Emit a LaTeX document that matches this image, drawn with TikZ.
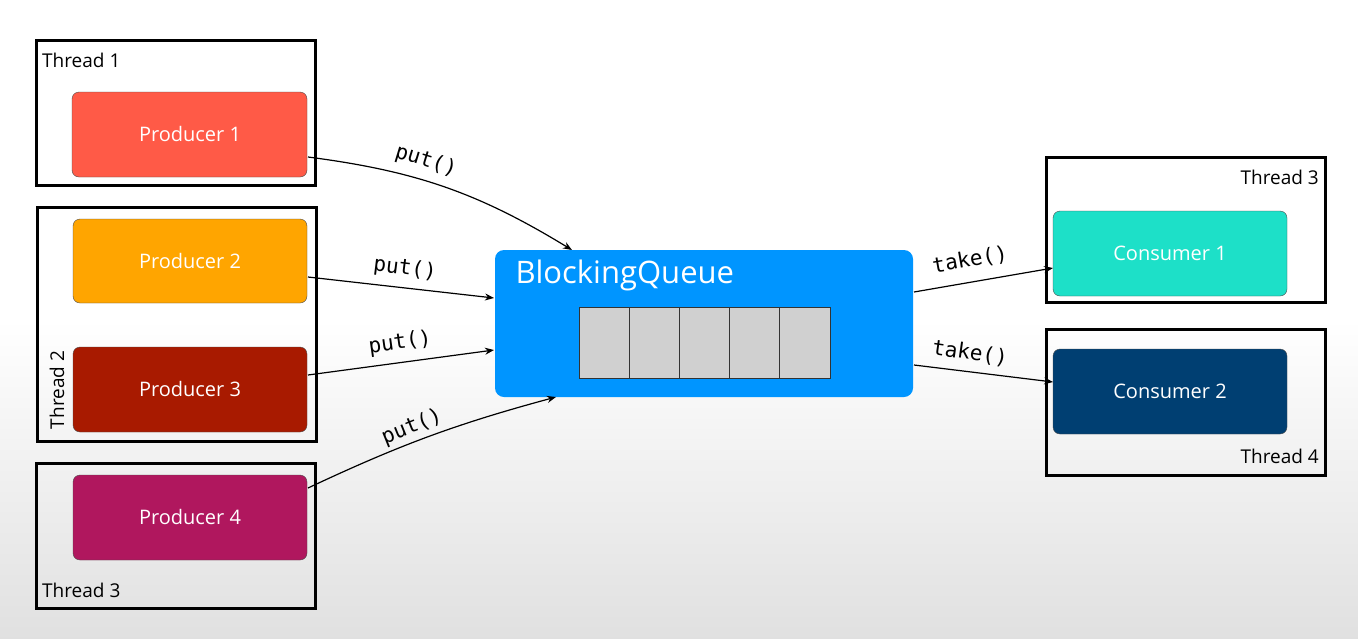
\documentclass[tikz,border=0pt]{standalone}
\usepackage{fontspec}
\setmainfont{Open Sans}
\newfontfamily\monof{DejaVu Sans Mono}
\usetikzlibrary{arrows.meta}
\definecolor{pA}{HTML}{FF5A47}\definecolor{pB}{HTML}{FFA500}
\definecolor{pC}{HTML}{A81A00}\definecolor{pD}{HTML}{B0175E}
\definecolor{cA}{HTML}{1DE0C8}\definecolor{cB}{HTML}{003F72}
\definecolor{bq}{HTML}{0095FF}\definecolor{cell}{HTML}{D0D0D0}
\begin{document}
\begin{tikzpicture}[x=1pt,y=-1pt,
 thr/.style={draw=black,line width=3pt},
 box/.style={draw=black!70,rounded corners=7pt},
 pt/.style={text=white,font=\fontsize{20}{24}\selectfont},
 lbl/.style={font=\fontsize{19}{22}\selectfont},
 call/.style={font=\monof\fontsize{21}{24}\selectfont},
 arr/.style={-{Stealth[length=9pt,width=7pt]},line width=1.2pt}]
\shade[top color=white,bottom color=white!88!black,middle color=white] (0,0) rectangle (1358,638);
\useasboundingbox (0,0) rectangle (1358,638);
\draw[thr] (36,40) rectangle (315,185);
\draw[thr] (37,207) rectangle (316,441);
\draw[thr] (36,463) rectangle (315,608);
\draw[thr] (1046,157) rectangle (1325,302);
\draw[thr] (1046,329) rectangle (1325,475);
\node[lbl,anchor=west,inner sep=1pt] (t1) at (41,60) {Thread 1};
\node[lbl,anchor=center,rotate=90,inner sep=1pt] (t2) at (57,390) {Thread 2};
\node[lbl,anchor=west,inner sep=1pt] (t3) at (41,590) {Thread 3};
\node[lbl,anchor=east,inner sep=1pt] (t3b) at (1320,177) {Thread 3};
\node[lbl,anchor=east,inner sep=1pt] (t4) at (1320,456) {Thread 4};
\path[box,fill=pA] (72,92) rectangle (307,177); \node[pt] (p1) at (190,134) {Producer 1};
\path[box,fill=pB] (73,219) rectangle (307,303); \node[pt] (p2) at (190,261) {Producer 2};
\path[box,fill=pC] (73,347) rectangle (307,432); \node[pt] (p3) at (190,389) {Producer 3};
\path[box,fill=pD] (73,475) rectangle (307,560); \node[pt] (p4) at (190,517) {Producer 4};
\path[box,fill=cA] (1053,211) rectangle (1287,296); \node[pt] (c1) at (1170,253) {Consumer 1};
\path[box,fill=cB] (1053,349) rectangle (1287,434); \node[pt] (c2) at (1170,391) {Consumer 2};
\path[fill=bq,rounded corners=9pt] (495,250) rectangle (913,397);
\node[anchor=west,text=white,font=\fontsize{31}{36}\selectfont] (bq) at (512,275) {BlockingQueue};
\foreach \i in {0,...,4}{\draw[fill=cell,draw=black!80,line width=1pt] (579+50.2*\i,307) rectangle ++(50.2,71);}
\coordinate (a1s) at (308,157); \coordinate (a1e) at (572,250);
\coordinate (a2s) at (308,277); \coordinate (a2e) at (494,298);
\coordinate (a3s) at (308,375); \coordinate (a3e) at (494,350);
\coordinate (a4s) at (308,488); \coordinate (a4e) at (556,397);
\coordinate (b1s) at (914,292); \coordinate (b1e) at (1053,268);
\coordinate (b2s) at (914,365); \coordinate (b2e) at (1053,382);
\draw[arr] (a1s) to[bend left=12] (a1e);
\draw[arr] (a2s) -- (a2e);
\draw[arr] (a3s) -- (a3e);
\draw[arr] (a4s) to[bend left=5] (a4e);
\draw[arr] (b1s) -- (b1e);
\draw[arr] (b2s) -- (b2e);
\node[call,rotate=-17] (l1) at (426,161) {put()};
\node[call,rotate=-7] (l2) at (405,269) {put()};
\node[call,rotate=8] (l3) at (400,343) {put()};
\node[call,rotate=22] (l4) at (412,427) {put()};
\node[call,rotate=10] (l5) at (970,260) {take()};
\node[call,rotate=-8] (l6) at (970,353) {take()};
\end{tikzpicture}
\end{document}
